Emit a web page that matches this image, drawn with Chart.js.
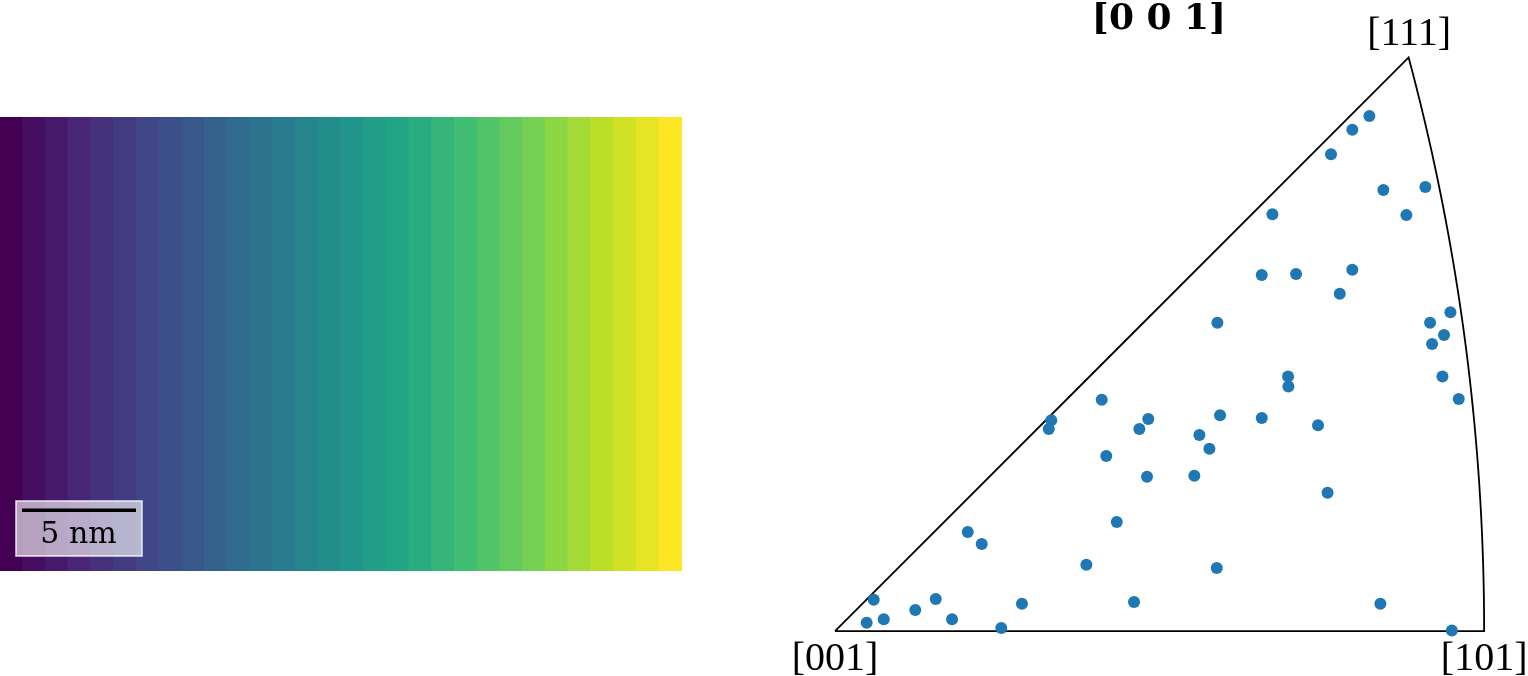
<!DOCTYPE html>
<html><head><meta charset="utf-8">
<script src="https://cdn.jsdelivr.net/npm/chart.js@4"></script>
<style>
html,body{margin:0;padding:0;background:#fff;width:1528px;height:676px;overflow:hidden;}
#cL{position:absolute;left:0;top:117px;}
#cR{position:absolute;left:780px;top:0;}
</style></head><body>
<canvas id="cL" width="682" height="454" style="width:682px;height:454px"></canvas>
<canvas id="cR" width="748" height="676" style="width:748px;height:676px"></canvas>
<script>
// ---- data ----
const stripeIndex = [0,1,2,3,4,5,6,7,8,9,10,11,12,13,14,15,16,17,18,19,20,21,22,23,24,25,26,27,28,29];
const scaleBarLabel = '5 nm';
const ipfTitle = '[0 0 1]';
const vertexNames = ['[001]', '[101]', '[111]'];
// stereographic coordinates of the poles
const ipfX = [0.3410,0.3301,0.3165,0.3499,0.3767,0.3646,0.2791,0.2723,0.2942,0.3301,
              0.3221,0.2440,0.3927,0.3797,0.3886,0.3810,0.3876,0.3980,0.2891,0.2893,
              0.1702,0.1380,0.1364,0.1999,0.1942,0.2457,0.2723,0.3082,0.2325,0.2389,
              0.1731,0.1991,0.2293,0.3143,0.1798,0.0847,0.0936,0.1604,0.2436,0.0247,
              0.0643,0.0512,0.1193,0.1908,0.3480,0.0202,0.0311,0.0747,0.1061,0.3936];
const ipfY = [0.3287,0.3199,0.3042,0.2814,0.2833,0.2655,0.2659,0.2272,0.2278,0.2306,
              0.2153,0.1967,0.2034,0.1967,0.1889,0.1832,0.1625,0.1481,0.1625,0.1560,
              0.1476,0.1345,0.1289,0.1353,0.1289,0.1377,0.1359,0.1313,0.1251,0.1163,
              0.1117,0.0985,0.0991,0.0882,0.0696,0.0632,0.0555,0.0423,0.0402,0.0200,
              0.0204,0.0134,0.0174,0.0185,0.0174,0.0053,0.0075,0.0075,0.0019,0.0004];

// ---- viridis colour map ----
const viridisAnchors = ['#440154','#482475','#414487','#355f8d','#2a788e','#21918c','#22a884','#44bf70','#7ad151','#bddf26','#fde725'];
function hexToRgb(h){return [parseInt(h.slice(1,3),16),parseInt(h.slice(3,5),16),parseInt(h.slice(5,7),16)];}
function viridis(t){
  const s=Math.min(Math.max(t,0),1)*10; const i=Math.min(Math.floor(s),9); const f=s-i;
  const a=hexToRgb(viridisAnchors[i]), b=hexToRgb(viridisAnchors[i+1]);
  return 'rgb('+a.map((v,k)=>Math.round(v+(b[k]-v)*f)).join(',')+')';
}

// ---- left panel: striped image ----
const scaleBarPlugin = {
  id:'scaleBar',
  afterDraw(chart){
    const ctx=chart.ctx; ctx.save();
    ctx.fillStyle='rgba(255,255,255,0.62)';
    ctx.fillRect(16,384,126,55);
    ctx.strokeStyle='rgba(255,255,255,0.85)'; ctx.lineWidth=1.5;
    ctx.strokeRect(16,384,126,55);
    ctx.fillStyle='#000';
    ctx.fillRect(22,391.5,114,3.5);
    ctx.font='30px "DejaVu Serif"'; ctx.textAlign='center'; ctx.textBaseline='alphabetic';
    ctx.fillText(scaleBarLabel,78.5,426);
    ctx.restore();
  }
};
new Chart(document.getElementById('cL'),{
  type:'bar',
  data:{labels:stripeIndex.map(String),datasets:[{
    data:stripeIndex.map(()=>1),
    backgroundColor:stripeIndex.map(v=>viridis(v/(stripeIndex.length-1))),
    borderWidth:0,barPercentage:1.06,categoryPercentage:1}]},
  options:{responsive:false,animation:false,
    layout:{padding:0,autoPadding:false},
    plugins:{legend:{display:false},tooltip:{enabled:false},title:{display:false}},
    scales:{x:{display:false},y:{display:false,min:0,max:1}}},
  plugins:[scaleBarPlugin]
});

// ---- right panel: inverse pole figure ----
// fundamental sector boundary: [001] -> [101] -> great circle (1,t,1) -> [111] -> [001]
const boundary=[{x:0,y:0}];
for(let k=0;k<=40;k++){const t=k/40;const n=Math.sqrt(2+t*t);boundary.push({x:1/(n+1),y:t/(n+1)});}
boundary.push({x:0,y:0});

const ipfLabels = {
  id:'ipfLabels',
  afterDraw(chart){
    const ctx=chart.ctx, xs=chart.scales.x; ctx.save();
    ctx.fillStyle='#000'; ctx.textAlign='center'; ctx.textBaseline='alphabetic';
    ctx.font='bold 36px "DejaVu Serif"';
    ctx.fillText(ipfTitle,379,29);
    ctx.font='40px "Liberation Serif"';
    const v111=boundary[boundary.length-2];
    ctx.fillText(vertexNames[0],xs.getPixelForValue(0),670);
    ctx.fillText(vertexNames[1],xs.getPixelForValue(boundary[1].x),670);
    ctx.fillText(vertexNames[2],xs.getPixelForValue(v111.x)+0.5,45);
    ctx.restore();
  }
};
new Chart(document.getElementById('cR'),{
  type:'scatter',
  data:{datasets:[
    {data:ipfX.map((x,i)=>({x:x,y:ipfY[i]})),backgroundColor:'#1f77b4',borderWidth:0,pointRadius:6,pointHoverRadius:6},
    {type:'line',data:boundary,borderColor:'#000',borderWidth:1.8,pointRadius:0,fill:false,tension:0.000001,borderJoinStyle:'miter'}
  ]},
  options:{responsive:false,animation:false,
    layout:{padding:0,autoPadding:false},
    plugins:{legend:{display:false},tooltip:{enabled:false},title:{display:false}},
    scales:{x:{type:'linear',display:false,min:-0.0351,max:0.4422},
            y:{type:'linear',display:false,min:-0.0287,max:0.4027}}},
  plugins:[ipfLabels]
});
</script></body></html>
